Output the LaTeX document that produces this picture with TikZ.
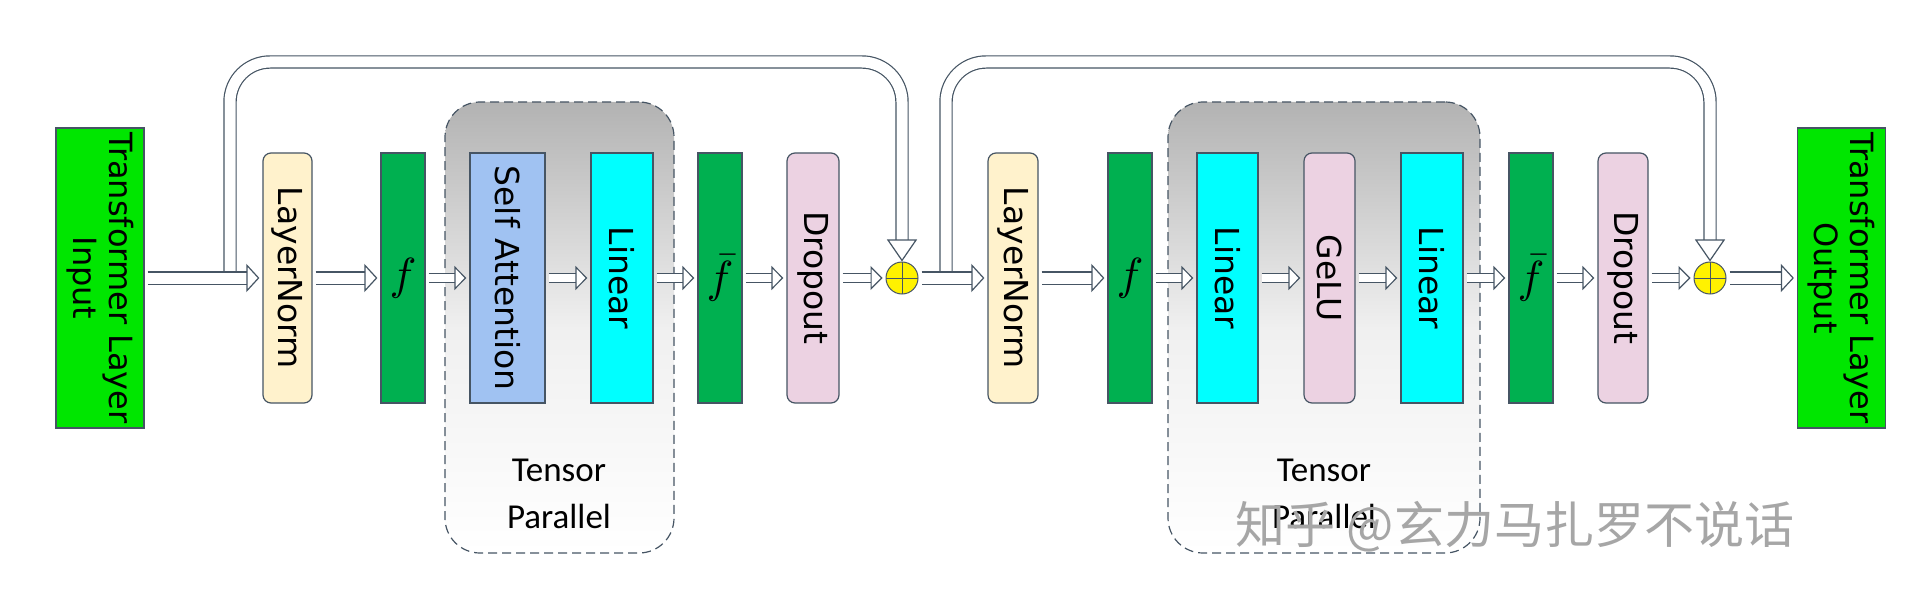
\documentclass[tikz,border=0pt]{standalone}
\usepackage{fontspec}
\usepackage{graphicx}
\setmainfont{DejaVu Sans}
\newfontfamily\calfam{Carlito}
\newfontfamily\cjkfam{Noto Sans CJK SC}
\usetikzlibrary{arrows.meta}
\definecolor{ingreen}{RGB}{0,230,0}
\definecolor{fgreen}{RGB}{0,176,80}
\definecolor{lncol}{RGB}{255,242,204}
\definecolor{sacol}{RGB}{160,194,242}
\definecolor{dpcol}{RGB}{236,210,226}
\definecolor{lincol}{RGB}{0,255,255}
\definecolor{edge}{RGB}{70,85,100}
\newcommand{\bigf}[1]{\scalebox{4.5}{$#1$}}
\begin{document}
\begin{tikzpicture}[x=1pt,y=-1pt,
 blk/.style={draw=edge,line width=1.2pt,minimum width=#1,minimum height=250pt,inner sep=0pt},
 vblk/.style={draw=edge,line width=1.2pt,minimum height=#1,minimum width=250pt,inner sep=0pt,rotate=-90,font=\fontsize{33}{36}\selectfont},
 rblk/.style={vblk=#1,rounded corners=8pt},
 io/.style={draw=edge,line width=1.2pt,fill=ingreen,minimum height=88pt,minimum width=300pt,inner sep=0pt,font=\fontsize{32}{36}\selectfont,align=center,rotate=-90},
 tp/.style={draw=edge,line width=1.2pt,dash pattern=on 9pt off 5pt,rounded corners=35pt,top color=black!30,bottom color=white,middle color=black!6},
 sa/.style={double=white,draw=edge,line width=1.2pt,double distance=8pt,-{Triangle[open,fill=white,length=12pt,width=24pt]},shorten >=3pt,shorten <=3pt},
 la/.style={double=white,draw=edge,line width=1.2pt,double distance=11pt,-{Triangle[open,fill=white,length=13pt,width=28pt]},shorten >=3pt,shorten <=3pt},
 skip/.style={double=white,draw=edge,line width=1.2pt,double distance=11pt,-{Triangle[open,fill=white,length=22pt,width=30pt]},rounded corners=40pt},
 plus/.style={circle,draw=edge,line width=1pt,fill=yellow,minimum size=32pt,inner sep=0pt,path picture={\draw[edge,line width=1pt] (path picture bounding box.north)--(path picture bounding box.south) (path picture bounding box.west)--(path picture bounding box.east);}}]
\useasboundingbox (0,0) rectangle (1922,604);
\fill[white] (0,0) rectangle (1922,604);
% tensor parallel boxes
\node[tp,minimum width=229pt,minimum height=451pt] (tp1) at (559.5,327.5) {};
\node[tp,minimum width=312pt,minimum height=451pt] (tp2) at (1324,327.5) {};
\node[font=\calfam\fontsize{35}{47}\selectfont,align=center] (tpl1) at (559,494) {Tensor\\Parallel};
\node[font=\calfam\fontsize{35}{47}\selectfont,align=center] (tpl2) at (1324,494) {Tensor\\Parallel};
% blocks
\node[io] (in) at (100,278) {Transformer Layer\\Input};
\node[rblk=49pt,fill=lncol] (ln1) at (287.5,278) {LayerNorm};
\node[blk=44pt,fill=fgreen] (f1) at (403,278) {\bigf{f}};
\node[vblk=75pt,fill=sacol] (sa1) at (507.5,278) {Self Attention};
\node[vblk=62pt,fill=lincol] (li1) at (622,278) {Linear};
\node[blk=44pt,fill=fgreen] (g1) at (720,278) {\bigf{\bar{f}}};
\node[rblk=52pt,fill=dpcol] (dp1) at (813,278) {Dropout};
\node[plus] (p1) at (902,278) {};
\node[rblk=50pt,fill=lncol] (ln2) at (1013,278) {LayerNorm};
\node[blk=44pt,fill=fgreen] (f2) at (1130,278) {\bigf{f}};
\node[vblk=61pt,fill=lincol] (li2) at (1227.5,278) {Linear};
\node[rblk=51pt,fill=dpcol] (ge2) at (1329.5,278) {GeLU};
\node[vblk=62pt,fill=lincol] (li3) at (1432,278) {Linear};
\node[blk=44pt,fill=fgreen] (g2) at (1531,278) {\bigf{\bar{f}}};
\node[rblk=50pt,fill=dpcol] (dp2) at (1623,278) {Dropout};
\node[plus] (p2) at (1710,278) {};
\node[io] (out) at (1841.5,278) {Transformer Layer\\Output};
% skip connections
\coordinate (s1) at (230,278);
\coordinate (s2) at (946,278);
\draw[skip] (s1) -- (230,62) -- (902,62) -- (p1.north);
\draw[skip] (s2) -- (946,62) -- (1710,62) -- (p2.north);
% arrows
\draw[la] (in) -- (ln1);
\draw[la] (ln1) -- (f1);
\draw[sa] (f1) -- (sa1);
\draw[sa] (sa1) -- (li1);
\draw[sa] (li1) -- (g1);
\draw[sa] (g1) -- (dp1);
\draw[sa] (dp1) -- (p1);
\draw[la] (p1) -- (ln2);
\draw[la] (ln2) -- (f2);
\draw[sa] (f2) -- (li2);
\draw[sa] (li2) -- (ge2);
\draw[sa] (ge2) -- (li3);
\draw[sa] (li3) -- (g2);
\draw[sa] (g2) -- (dp2);
\draw[sa] (dp2) -- (p2);
\draw[la] (p2) -- (out);
% watermark
\node[font=\cjkfam\fontsize{50}{54}\selectfont,text=black!35,anchor=west] (wm) at (1232,527) {知乎 @玄力马扎罗不说话};
\end{tikzpicture}
\end{document}
